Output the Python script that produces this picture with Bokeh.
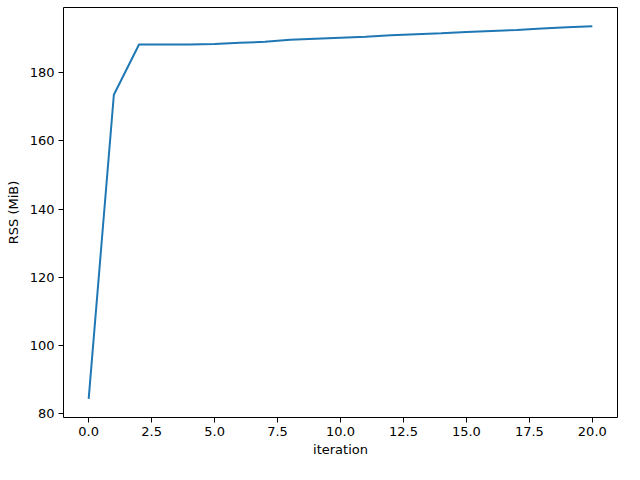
from bokeh.plotting import figure
from bokeh.models import FixedTicker, Range1d, CustomJSTickFormatter
from bokeh.embed import file_html
from bokeh.resources import INLINE

iteration = list(range(21))
rss_mib = [84.4, 173.5, 188.2, 188.2, 188.2, 188.4, 188.7, 189.0, 189.6, 189.9,
           190.2, 190.5, 190.9, 191.2, 191.5, 191.9, 192.2, 192.5, 192.9, 193.3, 193.6]
x_ticks = [0, 2.5, 5, 7.5, 10, 12.5, 15, 17.5, 20]
y_ticks = [80, 100, 120, 140, 160, 180]

p = figure(width=624, height=464, output_backend="svg", toolbar_location=None,
           x_range=Range1d(-1, 21), y_range=Range1d(78.94, 199.06),
           min_border_left=63, min_border_right=7, min_border_top=7, min_border_bottom=47)
p.line(iteration, rss_mib, line_color="#1f77b4", line_width=2)

p.xgrid.visible = False
p.ygrid.visible = False
p.outline_line_color = "black"
p.outline_line_width = 1
p.outline_line_alpha = 1

p.xaxis.ticker = FixedTicker(ticks=x_ticks)
p.yaxis.ticker = FixedTicker(ticks=y_ticks)
p.xaxis.formatter = CustomJSTickFormatter(code="return tick.toFixed(1);")
p.yaxis.formatter = CustomJSTickFormatter(code="return tick.toFixed(0);")
p.xaxis.axis_label = "iteration"
p.yaxis.axis_label = "RSS (MiB)"
for ax in (p.xaxis[0], p.yaxis[0]):
    ax.major_label_text_font = "DejaVu Sans"
    ax.major_label_text_font_size = "13px"
    ax.major_label_text_color = "black"
    ax.axis_label_text_font = "DejaVu Sans"
    ax.axis_label_text_font_size = "13px"
    ax.axis_label_text_font_style = "normal"
    ax.axis_label_text_color = "black"
    ax.minor_tick_line_color = None
    ax.major_tick_in = 0
    ax.major_tick_out = 5
    ax.major_tick_line_color = "black"
    ax.axis_line_color = None
    ax.major_label_standoff = 4
p.xaxis[0].axis_label_standoff = 3
p.yaxis[0].axis_label_standoff = 6

open("out.html", "w").write(file_html(p, INLINE))
